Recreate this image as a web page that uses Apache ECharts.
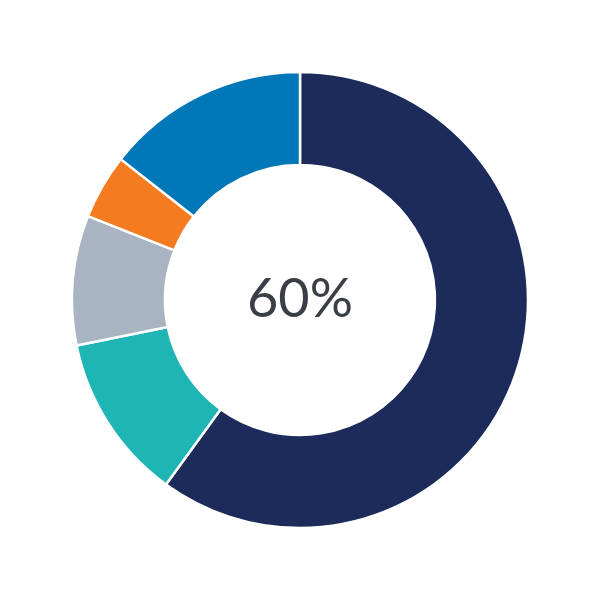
<!DOCTYPE html>
<html><head><meta charset="utf-8">
<script src="https://cdn.jsdelivr.net/npm/echarts@6/dist/echarts.min.js"></script>
<style>html,body{margin:0;padding:0;background:#fff}#c{width:600px;height:600px}</style>
</head><body><div id="c"></div>
<script>
const categories = ['A','B','C','D','E'];
const values = [60, 11.8, 9.2, 4.6, 14.4];
const colors = ['#1c2b5a','#1fb5b5','#a8b4c2','#f47b20','#0077b6'];
const centerLabel = '60%';
const chart = echarts.init(document.getElementById('c'));
chart.setOption({
  animation:false,
  graphic:[{type:'text',left:'center',top:'middle',style:{text:centerLabel,font:'400 54px Lato',fill:'#3a3f47'}}],
  series:[{
    type:'pie',
    center:['50%','50%'],
    radius:[135,228],
    startAngle:90,
    clockwise:true,
    label:{show:false},
    labelLine:{show:false},
    itemStyle:{borderColor:'#fff',borderWidth:2.5},
    data:categories.map((c,i)=>({name:c,value:values[i],itemStyle:{color:colors[i]}}))
  }]
});
</script></body></html>
